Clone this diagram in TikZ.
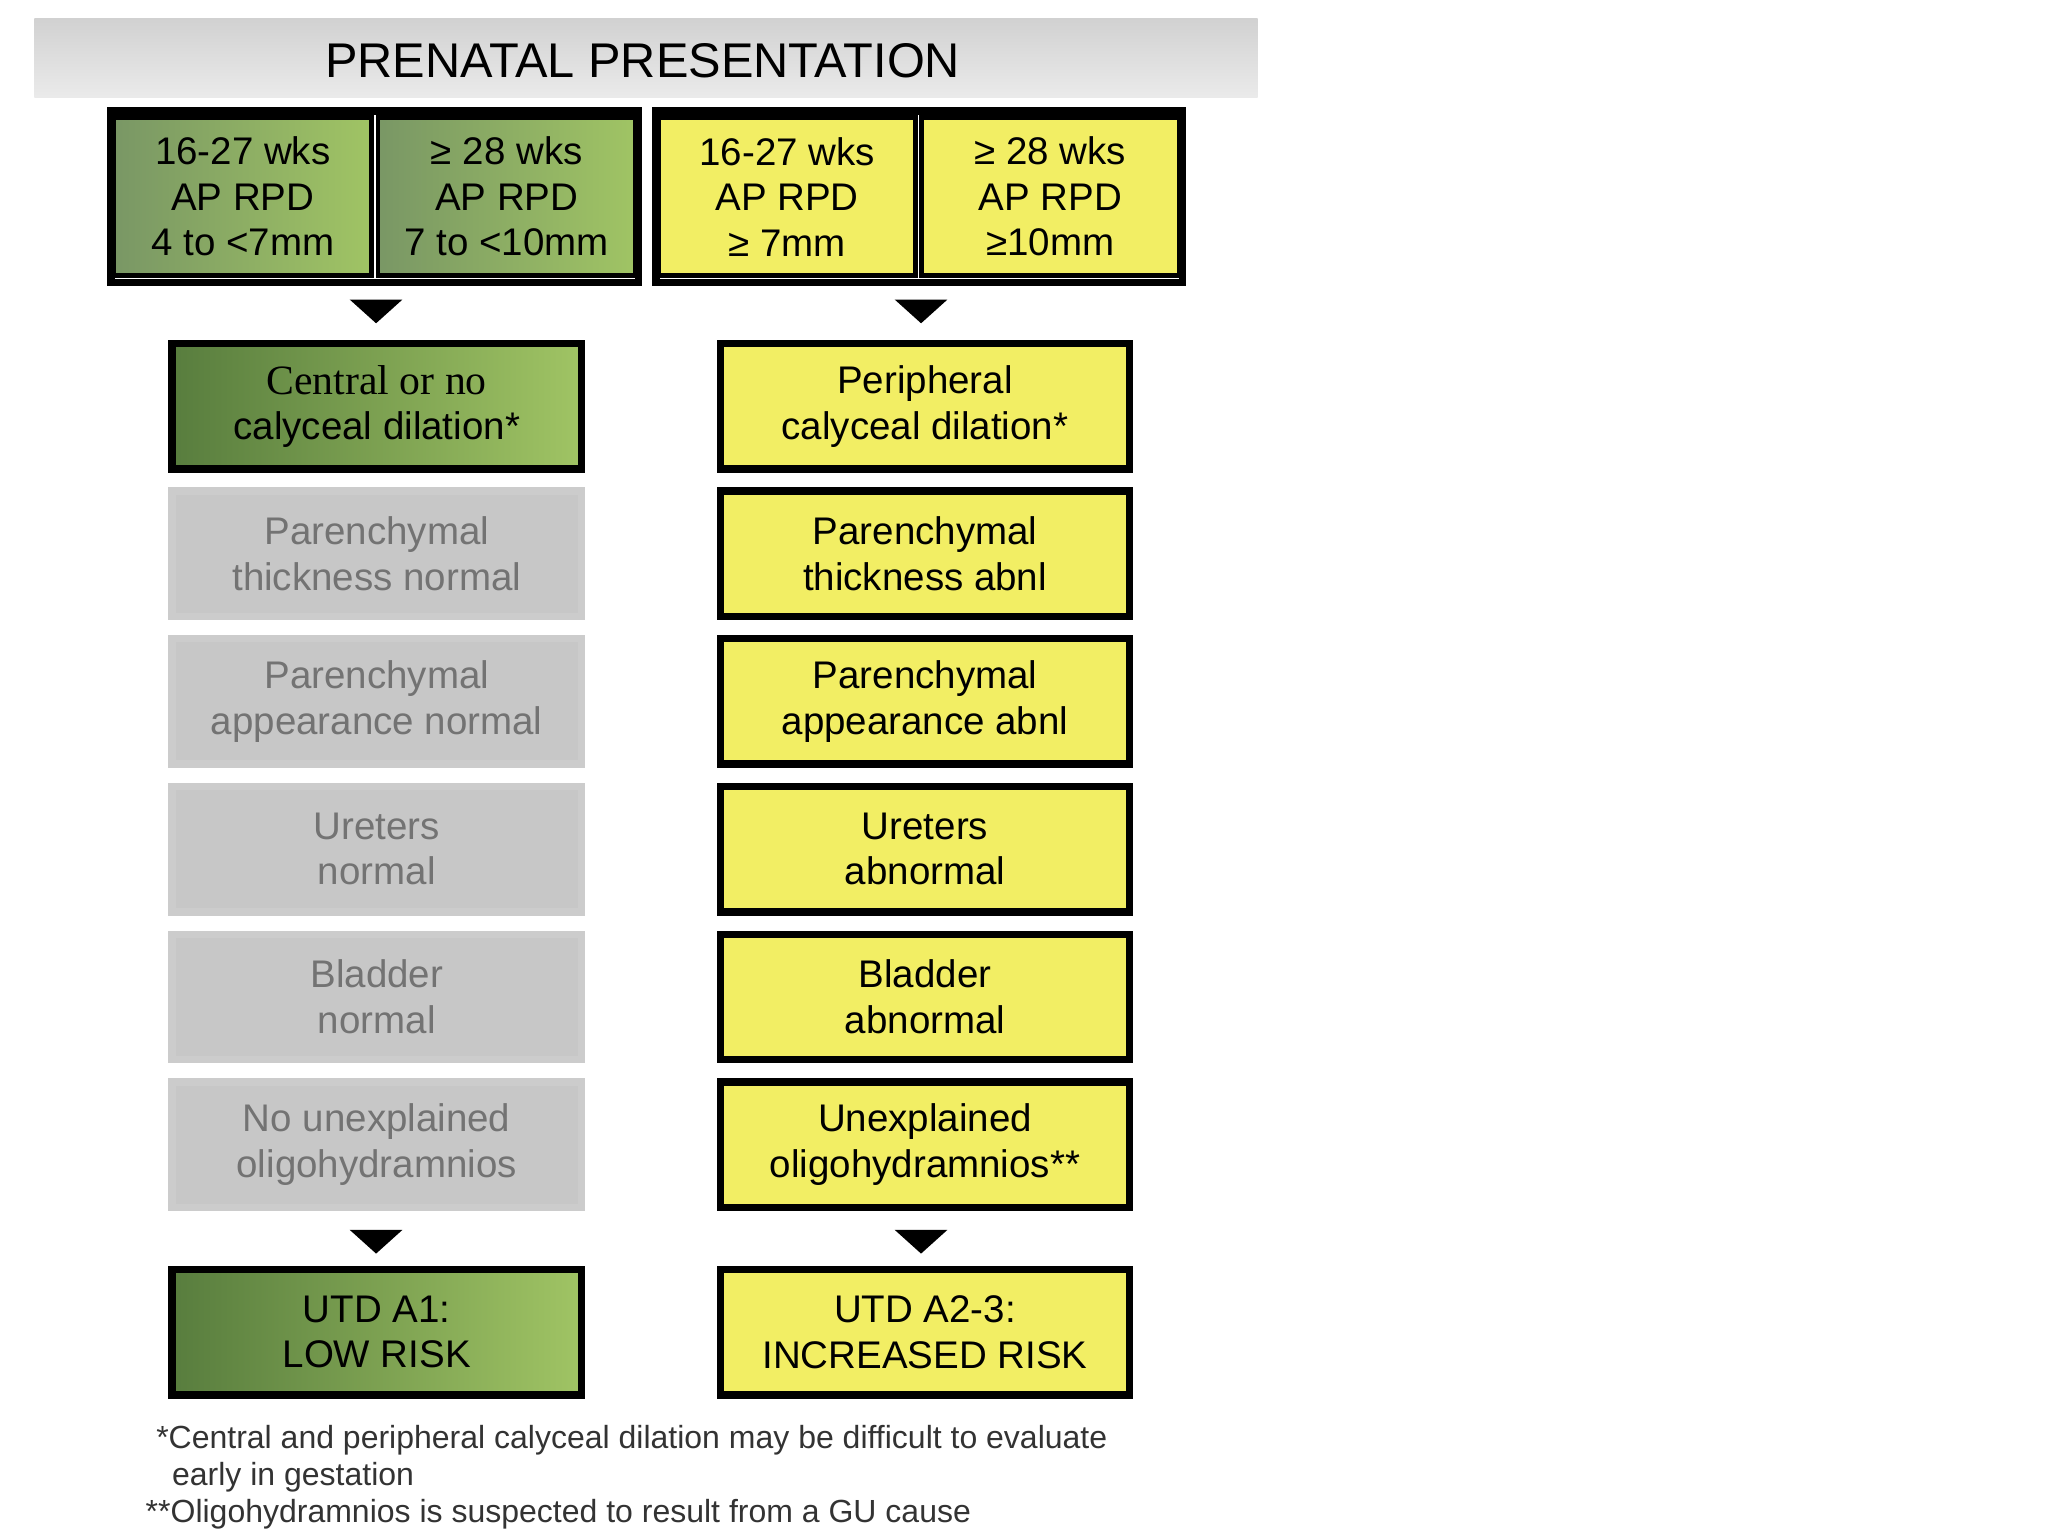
\documentclass[tikz,border=0pt]{standalone}
\usepackage{fontspec}
\setmainfont{Liberation Sans}
\usetikzlibrary{calc}
\definecolor{dkgreen}{RGB}{88,125,62}
\definecolor{ltgreen}{RGB}{160,196,100}
\definecolor{lemon}{RGB}{242,238,100}
\tikzset{
  box/.style={draw=black, line width=1.6pt, minimum width=3.1cm, minimum height=0.95cm, inner sep=1pt, align=center, font=\fontsize{8.3}{9.8}\selectfont},
  green box/.style={box, left color=dkgreen, right color=ltgreen},
  yellow box/.style={box, fill=lemon},
  grey box/.style={box, draw=black!20, fill=black!22, text=black!55},
  top/.style={box, minimum width=1.95cm, minimum height=1.2cm, line width=1pt}
}
\begin{document}
\begin{tikzpicture}
\useasboundingbox (0, 0) rectangle (15.52, -11.64);
\shade[top color=black!18, bottom color=black!8] (0.26, -0.14) rectangle (9.53, -0.74);
\node[font=\fontsize{10.5}{12}\selectfont] (head) at (4.87, -0.46) {PRENATAL PRESENTATION};

\draw[line width=1.6pt] (0.84, -0.84) rectangle (4.84, -2.14);
\draw[line width=1.6pt] (4.97, -0.84) rectangle (8.96, -2.14);
\node[top, left color=dkgreen!80!white, right color=ltgreen] (g1) at (1.84, -1.49) {16-27 wks\\AP RPD\\4 to <7mm};
\node[top, left color=dkgreen!80!white, right color=ltgreen] (g2) at (3.84, -1.49) {≥ 28 wks\\AP RPD\\7 to <10mm};
\node[top, fill=lemon] (y1) at (5.965, -1.49) {16-27 wks\\AP RPD\\≥ 7mm};
\node[top, fill=lemon] (y2) at (7.96, -1.49) {≥ 28 wks\\AP RPD\\≥10mm};

\foreach \x/\y in {2.85/2.27, 6.98/2.27, 2.85/9.32, 6.98/9.32}
  \fill (\x-0.2, -\y) -- (\x+0.2, -\y) -- (\x, -\y-0.18) -- cycle;

\node[green box] (l1) at (2.855, -3.08) {\fontspec{Liberation Serif}\fontsize{9}{10}\selectfont Central or no\\calyceal dilation*};
\node[grey box] (l2) at (2.855, -4.195) {Parenchymal\\thickness normal};
\node[grey box] (l3) at (2.855, -5.315) {Parenchymal\\appearance normal};
\node[grey box] (l4) at (2.855, -6.435) {Ureters\\normal};
\node[grey box] (l5) at (2.855, -7.555) {Bladder\\normal};
\node[grey box] (l6) at (2.855, -8.675) {No unexplained\\oligohydramnios};
\node[green box] (l7) at (2.855, -10.095) {UTD A1:\\LOW RISK};

\node[yellow box] (r1) at (7.01, -3.08) {Peripheral\\calyceal dilation*};
\node[yellow box] (r2) at (7.01, -4.195) {Parenchymal\\thickness abnl};
\node[yellow box] (r3) at (7.01, -5.315) {Parenchymal\\appearance abnl};
\node[yellow box] (r4) at (7.01, -6.435) {Ureters\\abnormal};
\node[yellow box] (r5) at (7.01, -7.555) {Bladder\\abnormal};
\node[yellow box] (r6) at (7.01, -8.675) {Unexplained\\oligohydramnios**};
\node[yellow box] (r7) at (7.01, -10.095) {UTD A2-3:\\INCREASED RISK};

\node[anchor=north west, align=left, font=\fontsize{6.9}{7.9}\selectfont, text=black!80] (note) at (0.98, -10.68)
  {\hspace*{0.08cm}*Central and peripheral calyceal dilation may be difficult to evaluate\\
   \hspace*{0.2cm}early in gestation\\
   **Oligohydramnios is suspected to result from a GU cause};
\end{tikzpicture}
\end{document}
